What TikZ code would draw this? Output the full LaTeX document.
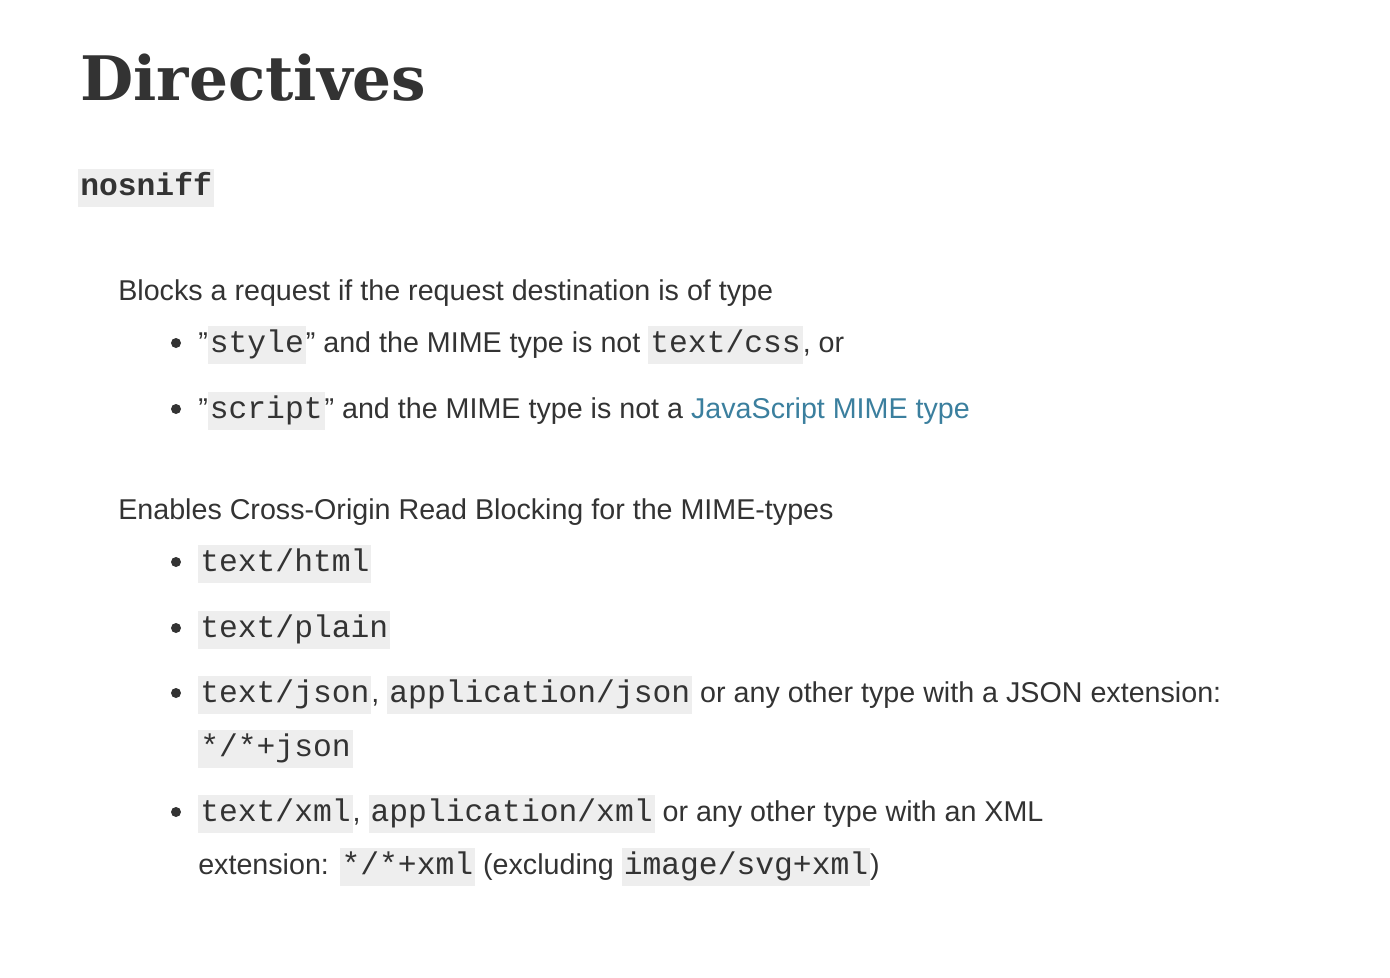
\documentclass[tikz,border=0pt]{standalone}
\usepackage{fontspec}
\setmainfont{Liberation Sans}
\setmonofont{Liberation Mono}
\newfontfamily\titlefont{DejaVu Serif}
\definecolor{txt}{HTML}{333333}
\definecolor{codebg}{HTML}{EEEEEE}
\definecolor{lnk}{HTML}{3B7F9E}
\newcommand{\cd}[1]{{\setlength{\fboxsep}{1.5pt}\colorbox{codebg}{\strut\ttfamily\fontsize{23.5}{26}\selectfont #1}}}
\begin{document}
\begin{tikzpicture}[x=0.75pt,y=-0.75pt,
  txt/.style={anchor=base west,inner sep=0pt,text=txt,font=\fontsize{21.5}{26}\selectfont},
  bul/.style={circle,fill=txt,inner sep=0pt,minimum size=7.5pt}]
\useasboundingbox (0,0) rectangle (1390,978);
\node[txt,font=\titlefont\bfseries\fontsize{46}{50}\selectfont] (title) at (80,100) {Directives};
\node[txt] (ns) at (78,195) {\cd{\bfseries nosniff}};
\node[txt] (b1) at (118,300) {Blocks a request if the request destination is of type};
\node[bul] (d1) at (176,343) {};
\node[txt] (l1) at (198,352) {"\cd{style}" and the MIME type is not \cd{text/css}, or};
\node[bul] (d2) at (176,409) {};
\node[txt] (l2) at (198,418) {"\cd{script}" and the MIME type is not a \textcolor{lnk}{JavaScript MIME type}};
\node[txt] (b2) at (118,519) {Enables Cross-Origin Read Blocking for the MIME-types};
\node[bul] (d3) at (176,562) {};
\node[txt] (m1) at (198,571) {\cd{text/html}};
\node[bul] (d4) at (176,628) {};
\node[txt] (m2) at (198,637) {\cd{text/plain}};
\node[bul] (d5) at (176,693) {};
\node[txt] (m3) at (198,702) {\cd{text/json}, \cd{application/json} or any other type with a JSON extension:};
\node[txt] (m3b) at (198,756) {\cd{*/*+json}};
\node[bul] (d6) at (176,812) {};
\node[txt] (m4) at (198,821) {\cd{text/xml}, \cd{application/xml} or any other type with an XML};
\node[txt] (m4b) at (198,874) {extension: \cd{*/*+xml} (excluding \cd{image/svg+xml})};
\end{tikzpicture}
\end{document}
